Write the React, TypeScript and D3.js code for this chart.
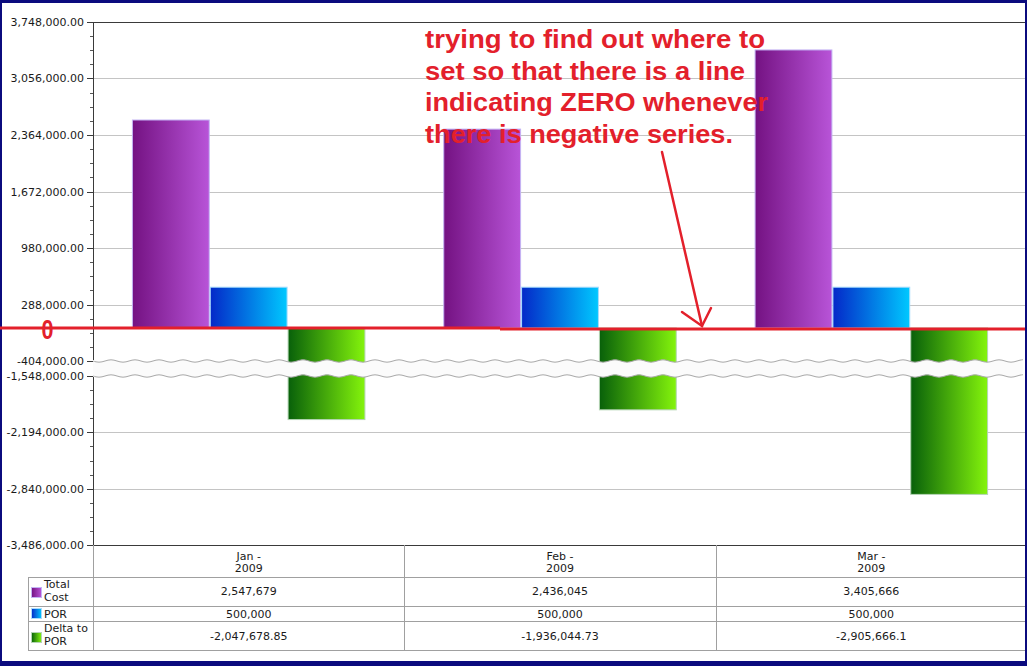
import * as d3 from 'd3'

// chart values
const categories = ['Jan -\n2009', 'Feb -\n2009', 'Mar -\n2009']
const seriesNames = ['Total Cost', 'POR', 'Delta to POR']
const legendLines = [['Total', 'Cost'], ['POR'], ['Delta to', 'POR']]
const totalCost = [2547679, 2436045, 3405666]
const por = [500000, 500000, 500000]
const deltaToPor = [-2047678.85, -1936044.73, -2905666.1]
const upperTicks = [3748000, 3056000, 2364000, 1672000, 980000, 288000, -404000]
const lowerTicks = [-1548000, -2194000, -2840000, -3486000]
const noteLines = [
  'trying to find out where to',
  'set so that there is a line',
  'indicating ZERO whenever',
  'there is negative series.',
]

const W = 1027
const H = 666
const left = 93
const right = 1025
const top = 22
const bottom = 545
const breakTop = 361
const breakBottom = 376

const gradColors = [
  ['#741282', '#b854d8'],
  ['#0428c8', '#00c8ff'],
  ['#08600a', '#84f40c'],
]
const barStroke = ['#c4b4f4', '#a8dcfc', '#b4d4b4']
const RED = '#e3202b'
const AXIS_FONT = "'DejaVu Sans', Verdana, sans-serif"

export default function App() {
  const values = [totalCost, por, deltaToPor]

  const yUpper = d3.scaleLinear().domain([upperTicks[6], upperTicks[0]]).range([breakTop, top])
  const yLower = d3.scaleLinear().domain([lowerTicks[3], lowerTicks[0]]).range([bottom, breakBottom])
  const y = (v: number) =>
    v >= upperTicks[6] ? yUpper(v) : v <= lowerTicks[0] ? yLower(v) : (breakTop + breakBottom) / 2

  // categories span slightly past the visible frame, as in the original
  const x = d3.scaleBand<string>().domain(categories).range([left, 1027])
  const xInner = d3.scaleBand<string>().domain(seriesNames).range([0, x.bandwidth()]).paddingOuter(0.5)

  const fmt = (v: number) => d3.format(',')(v).replace('\u2212', '-')
  const yFmt = (v: number) => d3.format(',.2f')(v).replace('\u2212', '-')

  // minor ticks at quarters between majors
  const minors: number[] = []
  const addMinors = (ticks: number[], sc: (v: number) => number) => {
    for (let i = 0; i < ticks.length - 1; i++) {
      const a = sc(ticks[i])
      const b = sc(ticks[i + 1])
      for (let k = 1; k < 4; k++) minors.push(a + ((b - a) * k) / 4)
    }
  }
  addMinors(upperTicks, yUpper)
  addMinors(lowerTicks, yLower)

  const wavePts = (y0: number) =>
    d3.range(left, right + 1, 3).map((px) => [px, y0 + 1.3 * Math.sin(((px - left) / 24) * Math.PI * 2)] as [number, number])
  const waveLine = d3.line().curve(d3.curveBasis)
  const topWave = wavePts(breakTop)
  const bottomWave = wavePts(breakBottom)
  const bandPath = waveLine([...topWave, ...bottomWave.slice().reverse()]) + 'Z'

  const rowBounds = [577, 606, 621.5, 650]
  const swatchY = [587, 608, 632]

  return (
    <svg
      width={W}
      height={H}
      viewBox={`0 0 ${W} ${H}`}
      style={{ position: 'absolute', left: 0, top: 0 }}
    >
      <defs>
        {gradColors.map((c, i) => (
          <linearGradient key={i} id={`g${i}`} x1="0" x2="1" y1="0" y2="0">
            <stop offset="0%" stopColor={c[0]} />
            <stop offset="100%" stopColor={c[1]} />
          </linearGradient>
        ))}
      </defs>

      {/* frame */}
      <rect x={0} y={0} width={W} height={H} fill="#0b0b7e" />
      <rect x={2} y={3} width={1023} height={658} fill="#ffffff" />

      {/* grid */}
      {[...upperTicks.slice(1, 6), ...lowerTicks.slice(1, 3)].map((t) => {
        const yy = Math.round(y(t)) + 0.5
        return <line key={t} x1={left} x2={right} y1={yy} y2={yy} stroke="#c4c4c4" />
      })}

      {/* bars */}
      {categories.map((cat, ci) => (
        <g key={cat} transform={`translate(${x(cat)},0)`}>
          {seriesNames.map((s, si) => {
            const v = values[si][ci]
            const y0 = y(0)
            const y1 = y(v)
            return (
              <rect
                key={s}
                x={(xInner(s) ?? 0) + 0.5}
                y={Math.min(y0, y1)}
                width={xInner.bandwidth() - 1}
                height={Math.abs(y1 - y0)}
                fill={`url(#g${si})`}
                stroke={barStroke[si]}
                strokeWidth={1}
              />
            )
          })}
        </g>
      ))}

      {/* scale break */}
      <path d={bandPath} fill="#fbfbfb" />
      <path d={waveLine(topWave) ?? ''} fill="none" stroke="#a8a8a8" strokeWidth={1} />
      <path d={waveLine(bottomWave) ?? ''} fill="none" stroke="#a8a8a8" strokeWidth={1} />

      {/* axes */}
      <line x1={left} x2={right} y1={top + 0.5} y2={top + 0.5} stroke="#3a3a3a" />
      <line x1={left + 0.5} x2={left + 0.5} y1={top} y2={breakTop - 1} stroke="#3a3a3a" />
      <line x1={left + 0.5} x2={left + 0.5} y1={breakBottom + 1} y2={bottom} stroke="#3a3a3a" />
      <line x1={left} x2={right} y1={bottom + 0.5} y2={bottom + 0.5} stroke="#3a3a3a" />
      {minors.map((m, i) => (
        <line key={i} x1={90} x2={left} y1={Math.round(m) + 0.5} y2={Math.round(m) + 0.5} stroke="#555" />
      ))}
      {[...upperTicks, ...lowerTicks].map((t) => {
        const yy = Math.round(y(t)) + 0.5
        return (
          <g key={t}>
            <line x1={87} x2={left} y1={yy} y2={yy} stroke="#3a3a3a" />
            <text
              x={84}
              y={yy}
              dy="0.35em"
              textAnchor="end"
              fontFamily={AXIS_FONT}
              fontSize={11}
              fill="#1a1a1a"
            >
              {yFmt(t)}
            </text>
          </g>
        )
      })}

      {/* data table */}
      <g fontFamily={AXIS_FONT} fontSize={11} fill="#1a1a1a">
        {rowBounds.map((ry) => (
          <line key={ry} x1={28} x2={right} y1={Math.floor(ry) + 0.5} y2={Math.floor(ry) + 0.5} stroke="#a0a0a0" />
        ))}
        <line x1={28.5} x2={28.5} y1={577} y2={650} stroke="#a0a0a0" />
        {[left, ...categories.slice(1).map((c) => x(c) ?? 0)].map((vx) => (
          <line key={vx} x1={Math.round(vx) + 0.5} x2={Math.round(vx) + 0.5} y1={bottom} y2={650} stroke="#a0a0a0" />
        ))}
        {categories.map((cat) => {
          const cx = (x(cat) ?? 0) + x.bandwidth() / 2
          const parts = cat.split('\n')
          return (
            <g key={cat}>
              {parts.map((p, pi) => (
                <text key={pi} x={cx} y={560 + pi * 12} textAnchor="middle">
                  {p}
                </text>
              ))}
              {values.map((vals, si) => (
                <text
                  key={si}
                  x={cx}
                  y={(rowBounds[si] + rowBounds[si + 1]) / 2}
                  dy="0.35em"
                  textAnchor="middle"
                >
                  {fmt(vals[categories.indexOf(cat)])}
                </text>
              ))}
            </g>
          )
        })}
        {seriesNames.map((s, si) => (
          <g key={s}>
            <rect
              x={31.5}
              y={swatchY[si] + 0.5}
              width={10}
              height={10}
              fill={`url(#g${si})`}
              stroke={barStroke[si]}
            />
            {legendLines[si].map((ln, li) => (
              <text
                key={li}
                x={44}
                y={
                  legendLines[si].length === 1
                    ? (rowBounds[si] + rowBounds[si + 1]) / 2
                    : rowBounds[si] + 7 + li * 13
                }
                dy="0.35em"
              >
                {ln}
              </text>
            ))}
          </g>
        ))}
      </g>

      {/* hand-drawn annotation */}
      <line x1={0} x2={500} y1={328} y2={328} stroke={RED} strokeWidth={3} />
      <line x1={500} x2={right} y1={329} y2={329} stroke={RED} strokeWidth={3} />
      <text
        x={47.5}
        y={339}
        textAnchor="middle"
        fontFamily="'Liberation Sans', Arial, sans-serif"
        fontWeight="bold"
        fontSize={27}
        fill={RED}
        textLength={12}
        lengthAdjust="spacingAndGlyphs"
      >
        0
      </text>
      <g stroke={RED} strokeWidth={2.5} fill="none" strokeLinecap="round">
        <line x1={662} y1={152} x2={702} y2={326} />
        <polyline points="682,312 702,326 711,308" />
      </g>
      <g fontFamily="'Liberation Sans', Arial, sans-serif" fontWeight="bold" fontSize={26} fill={RED}>
        {noteLines.map((ln, i) => (
          <text
            key={i}
            x={425}
            y={48 + i * 31.7}
            textLength={[340, 320, 343, 308][i]}
            lengthAdjust="spacingAndGlyphs"
          >
            {ln}
          </text>
        ))}
      </g>
    </svg>
  )
}
